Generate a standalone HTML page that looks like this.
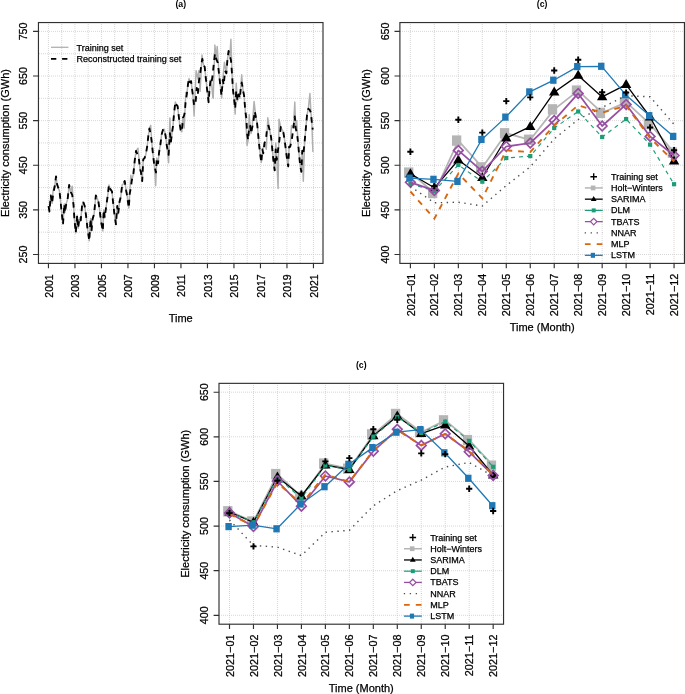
<!DOCTYPE html>
<html lang="en">
<head>
<meta charset="utf-8">
<title>Electricity consumption forecasts</title>
<style>
html,body{margin:0;padding:0;background:#fff;}
body{width:685px;height:694px;overflow:hidden;font-family:"Liberation Sans",Arial,Helvetica,sans-serif;}
svg{display:block;}
</style>
</head>
<body>
<svg width="685" height="694" viewBox="0 0 685 694">
<path d="M48.45 263V22.55M61.7 263V22.55M74.95 263V22.55M88.2 263V22.55M101.45 263V22.55M114.7 263V22.55M127.95 263V22.55M141.2 263V22.55M154.45 263V22.55M167.7 263V22.55M180.95 263V22.55M194.2 263V22.55M207.45 263V22.55M220.7 263V22.55M233.95 263V22.55M247.2 263V22.55M260.45 263V22.55M273.7 263V22.55M286.95 263V22.55M300.2 263V22.55M313.45 263V22.55" fill="none" stroke="#c4c4c4" stroke-width="0.8" stroke-dasharray="0.85 1.15"/>
<path d="M39 254.5H323M39 232.19H323M39 209.88H323M39 187.57H323M39 165.26H323M39 142.95H323M39 120.64H323M39 98.33H323M39 76.02H323M39 53.71H323M39 31.4H323" fill="none" stroke="#c4c4c4" stroke-width="0.8" stroke-dasharray="0.85 1.15"/>
<polyline points="48.54,205.99 49.46,211.5 50.77,195.47 52.09,203.36 53.1,190.2 54.72,186.28 56.03,176.42 57.08,184.31 58.39,188.25 59.45,190.88 60.36,199.42 61.68,212.55 62.99,224.38 64.31,204.01 64.96,212.55 66.28,203.36 67.59,199.42 69.17,184.96 70.48,191.53 72.2,186.3 73.5,204.67 74.42,219.12 75.74,232.92 77.18,215.18 78.1,228.32 79.42,217.81 80.73,220.44 82.04,205.99 83.09,201.39 84.67,205.99 85.99,215.18 87.3,227.01 89.27,240.8 90.58,218.47 91.5,230.95 92.55,219.12 94.13,213.87 95.84,195.47 97.15,198.1 98.47,202.04 99.78,211.24 101.09,221.75 102.8,230.95 103.72,209.93 104.64,217.81 106.35,205.33 107.66,196.13 108.98,184.96 110.29,188.91 112,191.53 112.92,200.73 114.23,212.55 115.94,224.38 117.26,205.99 118.18,213.87 119.49,202.04 120.8,196.79 122.12,184.96 123.43,183.65 124.74,181.02 126.06,190.22 127.37,196.79 127.48,198.83 128.8,208.03 129.72,193.58 130.8,175.2 131.82,180.44 133.39,173.87 134.71,160.73 136.02,150.88 138,148.2 139.96,168.61 141.01,172.55 142.2,181.09 143.25,159.42 144.56,158.1 145.88,154.16 147.19,146.28 148.5,134.45 149.42,128.54 150.7,125.3 151.79,142.34 153.1,155.47 154.42,165.99 155.7,185.7 156.78,158.1 158.09,163.36 159.01,152.85 160.33,144.96 161.64,134.45 162.96,129.85 164.27,129.2 165.58,135.77 166.9,146.28 168.6,162.7 169.9,117.9 170.84,142.34 172.15,131.82 172.99,126.09 174.01,113.83 175.34,102.08 176.36,104.64 177.59,106.17 178.61,114.85 179.64,124.05 180.66,130.18 181.88,131.72 182.91,117.92 184.2,128.1 185.8,92.4 186.79,94.42 188.01,84.2 189.04,78.58 190.06,82.15 191.08,81.13 192.1,89.31 192.92,95.44 194.1,115.9 196.1,70.7 198,79.1 198.8,70.7 200.1,91.4 202,55 203.62,65.47 204.67,66.79 205.72,77.3 207.04,89.12 208.61,102.26 209.66,87.81 210.58,79.93 211.5,82.55 212.8,97.5 213.2,98.3 214.9,45.1 216.23,58.91 217.2,46.4 219.12,74.67 220.44,86.5 221.7,98 222.8,79.93 224.4,62.2 226.35,73.36 227.4,60.22 228.58,51.02 229.9,56.28 230.9,39.2 232,73.36 232.92,89.12 233.84,97.01 235.2,114.1 236.2,83.2 237.52,100.95 238.57,94.38 239.88,98.32 241.7,74.7 243.04,90.44 244.09,95.69 245.14,108.83 247.1,145.4 248.14,140.18 249.2,114.6 250.11,125.73 251.03,133.61 252.08,128.36 254.1,101.4 255.76,116.53 257.07,123.1 257.99,132.3 258.91,142.81 259.96,152.01 261.28,162.52 262.6,151 264.56,142.81 266.3,149.3 267.8,117.8 269.82,130.99 271.13,137.55 272.18,148.07 273.36,159.89 274.68,170.4 275.8,143 276.78,159.89 278.1,188.5 279,119.2 280.72,127.04 282.04,129.67 283.35,132.3 284.66,140.18 285.98,150.69 287.29,161.2 288.21,166.46 289.13,146.75 290.18,146.75 291.5,125.6 293.47,127.04 294.8,102.1 295.7,128.36 296.7,120.5 298.07,142.81 299.12,154.64 300.3,166.46 301.35,171.72 302.27,150.69 303.3,181.2 304.64,141.5 305.95,127.04 307,115.22 308.31,108.65 309.9,93.5 310.94,112.59 311.86,123.1 312.9,152" fill="none" stroke="#b0b0b0" stroke-width="1.45" stroke-linejoin="round"/>
<polyline points="48.54,205.99 49.46,211.5 50.77,195.47 52.09,203.36 53.14,194.16 54.72,186.28 56.03,176.42 57.08,184.31 58.39,188.25 59.45,190.88 60.36,199.42 61.68,212.55 62.99,224.38 64.31,204.01 64.96,212.55 66.28,203.36 67.59,199.42 69.17,184.96 70.48,191.53 72.19,194.82 73.5,204.67 74.42,219.12 75.74,232.92 77.18,215.18 78.1,228.32 79.42,217.81 80.73,220.44 82.04,205.99 83.09,201.39 84.67,205.99 85.99,215.18 87.3,227.01 89.27,240.8 90.58,218.47 91.5,230.95 92.55,219.12 94.13,213.87 95.84,195.47 97.15,198.1 98.47,202.04 99.78,211.24 101.09,221.75 102.8,230.95 103.72,209.93 104.64,217.81 106.35,205.33 107.66,196.13 108.98,184.96 110.29,188.91 112,191.53 112.92,200.73 114.23,212.55 115.94,224.38 117.26,205.99 118.18,213.87 119.49,202.04 120.8,196.79 122.12,184.96 123.43,183.65 124.74,181.02 126.06,190.22 127.37,196.79 127.48,198.83 128.8,208.03 129.72,193.58 130.77,188.32 131.82,180.44 133.39,173.87 134.71,160.73 136.02,150.88 137.34,154.16 138.65,156.79 139.96,168.61 141.01,172.55 142.2,181.09 143.25,159.42 144.56,158.1 145.88,154.16 147.19,146.28 148.5,134.45 149.42,128.54 150.74,134.45 151.79,142.34 153.1,155.47 154.42,165.99 155.99,172.55 156.78,158.1 158.09,163.36 159.01,152.85 160.33,144.96 161.64,134.45 162.96,129.85 164.27,129.2 165.58,135.77 166.9,146.28 168.61,154.82 169.92,133.14 170.84,142.34 172.15,131.82 172.99,126.09 174.01,113.83 175.34,102.08 176.36,104.64 177.59,106.17 178.61,114.85 179.64,124.05 180.66,130.18 181.88,131.72 182.91,117.92 183.93,115.88 184.74,112.81 185.56,102.59 186.79,94.42 188.01,84.2 189.04,78.58 190.06,82.15 191.08,81.13 192.1,89.31 192.92,95.44 194.15,105.66 195.74,100.95 196.79,87.81 197.84,94.38 198.89,81.24 200.07,74.67 201.39,64.16 202.31,58.91 203.62,65.47 204.67,66.79 205.72,77.3 207.04,89.12 208.61,102.26 209.66,87.81 210.58,79.93 211.5,82.55 212.55,75.99 213.61,65.47 214.92,53.65 216.23,58.91 217.81,62.85 219.12,74.67 220.44,86.5 221.49,95.69 222.8,79.93 223.72,85.18 225.04,70.73 226.35,73.36 227.4,60.22 228.58,51.02 229.9,56.28 230.95,60.22 232,73.36 232.92,89.12 233.84,97.01 235.15,108.83 236.2,90.44 237.52,100.95 238.57,94.38 239.88,98.32 240.8,87.81 241.72,82.55 243.04,90.44 244.09,95.69 245.14,108.83 246.45,119.34 247.09,133.61 248.14,140.18 249.19,127.04 250.11,125.73 251.03,133.61 252.08,128.36 253.39,121.79 254.71,111.28 255.76,116.53 257.07,123.1 257.99,132.3 258.91,142.81 259.96,152.01 261.28,162.52 262.33,149.38 263.25,153.32 264.56,142.81 265.88,140.18 267.19,127.04 268.5,125.73 269.82,130.99 271.13,137.55 272.18,148.07 273.36,159.89 274.68,170.4 275.73,149.38 276.78,159.89 278.09,149.38 279.41,140.18 280.72,127.04 282.04,129.67 283.35,132.3 284.66,140.18 285.98,150.69 287.29,161.2 288.21,166.46 289.13,146.75 290.18,146.75 291.76,140.18 293.47,127.04 294.78,116.53 295.7,128.36 297.01,133.61 298.07,142.81 299.12,154.64 300.3,166.46 301.35,171.72 302.27,150.69 303.32,154.64 304.64,141.5 305.95,127.04 307,115.22 308.31,108.65 309.63,109.96 310.94,112.59 311.86,123.1 312.78,129.67" fill="none" stroke="#000" stroke-width="1.85" stroke-dasharray="5.6 5.0" stroke-linejoin="round"/>
<rect x="38.45" y="22.55" width="284.55" height="240.85" fill="none" stroke="#303030" stroke-width="1.15"/>
<path d="M48.45 263.4v4.9M74.95 263.4v4.9M101.45 263.4v4.9M127.95 263.4v4.9M154.45 263.4v4.9M180.95 263.4v4.9M207.45 263.4v4.9M233.95 263.4v4.9M260.45 263.4v4.9M286.95 263.4v4.9M313.45 263.4v4.9M38.45 254.5h-5.4M38.45 209.88h-5.4M38.45 165.26h-5.4M38.45 120.64h-5.4M38.45 76.02h-5.4M38.45 31.4h-5.4" fill="none" stroke="#303030" stroke-width="1.15"/>
<g font-family='"Liberation Sans", Arial, Helvetica, sans-serif' font-size="10.7" fill="#000" stroke="#000" stroke-width="0.25">
<text transform="translate(52.85 274.3) rotate(-90)" text-anchor="end" font-size="10.5">2001</text>
<text transform="translate(79.35 274.3) rotate(-90)" text-anchor="end" font-size="10.5">2003</text>
<text transform="translate(105.85 274.3) rotate(-90)" text-anchor="end" font-size="10.5">2005</text>
<text transform="translate(132.35 274.3) rotate(-90)" text-anchor="end" font-size="10.5">2007</text>
<text transform="translate(158.85 274.3) rotate(-90)" text-anchor="end" font-size="10.5">2009</text>
<text transform="translate(185.35 274.3) rotate(-90)" text-anchor="end" font-size="10.5">2011</text>
<text transform="translate(211.85 274.3) rotate(-90)" text-anchor="end" font-size="10.5">2013</text>
<text transform="translate(238.35 274.3) rotate(-90)" text-anchor="end" font-size="10.5">2015</text>
<text transform="translate(264.85 274.3) rotate(-90)" text-anchor="end" font-size="10.5">2017</text>
<text transform="translate(291.35 274.3) rotate(-90)" text-anchor="end" font-size="10.5">2019</text>
<text transform="translate(317.85 274.3) rotate(-90)" text-anchor="end" font-size="10.5">2021</text>
<text transform="translate(27.35 254.5) rotate(-90)" text-anchor="middle">250</text>
<text transform="translate(27.35 209.88) rotate(-90)" text-anchor="middle">350</text>
<text transform="translate(27.35 165.26) rotate(-90)" text-anchor="middle">450</text>
<text transform="translate(27.35 120.64) rotate(-90)" text-anchor="middle">550</text>
<text transform="translate(27.35 76.02) rotate(-90)" text-anchor="middle">650</text>
<text transform="translate(27.35 31.4) rotate(-90)" text-anchor="middle">750</text>
</g>
<g font-family='"Liberation Sans", Arial, Helvetica, sans-serif' font-size="11.0" fill="#000" stroke="#000" stroke-width="0.25">
<text transform="translate(8.55 142.97) rotate(-90)" text-anchor="middle">Electricity consumption (GWh)</text>
<text x="180.72" y="321.7" text-anchor="middle">Time</text>
</g>
<text x="180.72" y="6.75" text-anchor="middle" font-family='"Liberation Sans", Arial, Helvetica, sans-serif' font-size="8.7" font-weight="bold" fill="#000">(a)</text>
<path d="M51 47.3H68.4" stroke="#b0b0b0" stroke-width="1.3" fill="none"/>
<path d="M51 58.9H68.4" stroke="#000" stroke-width="1.9" stroke-dasharray="5.3 5.8" fill="none"/>
<g font-family='"Liberation Sans", Arial, Helvetica, sans-serif' font-size="9.0" fill="#000" stroke="#000" stroke-width="0.25"><text x="76.6" y="50.6">Training set</text><text x="76.6" y="62.2">Reconstructed training set</text></g>
<path d="M410.4 263V22.55M434.37 263V22.55M458.34 263V22.55M482.31 263V22.55M506.28 263V22.55M530.25 263V22.55M554.22 263V22.55M578.19 263V22.55M602.16 263V22.55M626.13 263V22.55M650.1 263V22.55M674.07 263V22.55" fill="none" stroke="#c4c4c4" stroke-width="0.8" stroke-dasharray="0.85 1.15"/>
<path d="M400 254.5H684.45M400 209.88H684.45M400 165.26H684.45M400 120.64H684.45M400 76.02H684.45M400 31.4H684.45" fill="none" stroke="#c4c4c4" stroke-width="0.8" stroke-dasharray="0.85 1.15"/>
<polyline points="410.4,172.6 434.37,193 458.34,140.6 482.31,167.4 506.28,133.3 530.25,139.8 554.22,109.4 578.19,90.6 602.16,112.9 626.13,102.2 650.1,124.1 674.07,152.6" fill="none" stroke="#b5b5b5" stroke-width="1.8" stroke-linejoin="round"/>
<g fill="#b5b5b5"><rect x="404.05" y="167.4" width="9.3" height="10.4"/><rect x="428.02" y="187.8" width="9.3" height="10.4"/><rect x="451.99" y="135.4" width="9.3" height="10.4"/><rect x="475.96" y="162.2" width="9.3" height="10.4"/><rect x="499.93" y="128.1" width="9.3" height="10.4"/><rect x="523.9" y="134.6" width="9.3" height="10.4"/><rect x="547.87" y="104.2" width="9.3" height="10.4"/><rect x="571.84" y="85.4" width="9.3" height="10.4"/><rect x="595.81" y="107.7" width="9.3" height="10.4"/><rect x="619.78" y="97" width="9.3" height="10.4"/><rect x="643.75" y="118.9" width="9.3" height="10.4"/><rect x="667.72" y="147.4" width="9.3" height="10.4"/></g>
<polyline points="410.4,173.8 434.37,187.8 458.34,160 482.31,177.5 506.28,138 530.25,126.6 554.22,92.2 578.19,75.4 602.16,96.9 626.13,84.7 650.1,117 674.07,161" fill="none" stroke="#000" stroke-width="1.3" stroke-linejoin="round"/>
<g fill="#000"><path d="M410.4 168.2l5.2 9h-10.4z"/><path d="M434.37 182.2l5.2 9h-10.4z"/><path d="M458.34 154.4l5.2 9h-10.4z"/><path d="M482.31 171.9l5.2 9h-10.4z"/><path d="M506.28 132.4l5.2 9h-10.4z"/><path d="M530.25 121l5.2 9h-10.4z"/><path d="M554.22 86.6l5.2 9h-10.4z"/><path d="M578.19 69.8l5.2 9h-10.4z"/><path d="M602.16 91.3l5.2 9h-10.4z"/><path d="M626.13 79.1l5.2 9h-10.4z"/><path d="M650.1 111.4l5.2 9h-10.4z"/><path d="M674.07 155.4l5.2 9h-10.4z"/></g>
<polyline points="410.4,183.8 434.37,191 458.34,165 482.31,181.7 506.28,158 530.25,156.1 554.22,128 578.19,111.5 602.16,137 626.13,119.1 650.1,144.6 674.07,184.2" fill="none" stroke="#1b9e77" stroke-width="1.15" stroke-dasharray="4 4"/>
<g fill="#1b9e77"><rect x="408.3" y="181.7" width="4.2" height="4.2"/><rect x="432.27" y="188.9" width="4.2" height="4.2"/><rect x="456.24" y="162.9" width="4.2" height="4.2"/><rect x="480.21" y="179.6" width="4.2" height="4.2"/><rect x="504.18" y="155.9" width="4.2" height="4.2"/><rect x="528.15" y="154" width="4.2" height="4.2"/><rect x="552.12" y="125.9" width="4.2" height="4.2"/><rect x="576.09" y="109.4" width="4.2" height="4.2"/><rect x="600.06" y="134.9" width="4.2" height="4.2"/><rect x="624.03" y="117" width="4.2" height="4.2"/><rect x="648" y="142.5" width="4.2" height="4.2"/><rect x="671.97" y="182.1" width="4.2" height="4.2"/></g>
<polyline points="410.4,182.3 434.37,190.4 458.34,150.4 482.31,171.3 506.28,146.5 530.25,143 554.22,120.4 578.19,93.4 602.16,126 626.13,104.4 650.1,136.4 674.07,155.5" fill="none" stroke="#984ea3" stroke-width="1.75" stroke-linejoin="round"/>
<g fill="none" stroke="#984ea3" stroke-width="1.7"><path d="M410.4 177.5l4.8 4.8l-4.8 4.8l-4.8 -4.8z"/><path d="M434.37 185.6l4.8 4.8l-4.8 4.8l-4.8 -4.8z"/><path d="M458.34 145.6l4.8 4.8l-4.8 4.8l-4.8 -4.8z"/><path d="M482.31 166.5l4.8 4.8l-4.8 4.8l-4.8 -4.8z"/><path d="M506.28 141.7l4.8 4.8l-4.8 4.8l-4.8 -4.8z"/><path d="M530.25 138.2l4.8 4.8l-4.8 4.8l-4.8 -4.8z"/><path d="M554.22 115.6l4.8 4.8l-4.8 4.8l-4.8 -4.8z"/><path d="M578.19 88.6l4.8 4.8l-4.8 4.8l-4.8 -4.8z"/><path d="M602.16 121.2l4.8 4.8l-4.8 4.8l-4.8 -4.8z"/><path d="M626.13 99.6l4.8 4.8l-4.8 4.8l-4.8 -4.8z"/><path d="M650.1 131.6l4.8 4.8l-4.8 4.8l-4.8 -4.8z"/><path d="M674.07 150.7l4.8 4.8l-4.8 4.8l-4.8 -4.8z"/></g>
<polyline points="410.4,186.5 434.37,202.8 458.34,202.2 482.31,206 506.28,185.5 530.25,166.8 554.22,138.9 578.19,119.5 602.16,107.4 626.13,95.7 650.1,96.8 674.07,124.4" fill="none" stroke="#4d4d4d" stroke-width="1.4" stroke-dasharray="1.4 4.5"/>
<polyline points="410.4,191.5 434.37,218.6 458.34,173.5 482.31,198.3 506.28,150.4 530.25,152 554.22,125.5 578.19,105.3 602.16,112.7 626.13,105.7 650.1,138 674.07,161.5" fill="none" stroke="#d9670f" stroke-width="1.9" stroke-dasharray="5.8 5.9"/>
<polyline points="409.9,178.1 433.87,179.3 457.84,181.4 481.81,139.5 505.78,117.1 529.75,91.9 553.72,80.2 577.69,66.6 601.66,66.3 625.63,94.7 649.6,115.7 673.57,136.4" fill="none" stroke="#1f78b4" stroke-width="1.3" stroke-linejoin="round"/>
<g fill="#1f78b4"><rect x="406.3" y="174.5" width="6.4" height="7.2"/><rect x="430.27" y="175.7" width="6.4" height="7.2"/><rect x="454.24" y="177.8" width="6.4" height="7.2"/><rect x="478.21" y="135.9" width="6.4" height="7.2"/><rect x="502.18" y="113.5" width="6.4" height="7.2"/><rect x="526.15" y="88.3" width="6.4" height="7.2"/><rect x="550.12" y="76.6" width="6.4" height="7.2"/><rect x="574.09" y="63" width="6.4" height="7.2"/><rect x="598.06" y="62.7" width="6.4" height="7.2"/><rect x="622.03" y="91.1" width="6.4" height="7.2"/><rect x="646" y="112.1" width="6.4" height="7.2"/><rect x="669.97" y="132.8" width="6.4" height="7.2"/></g>
<path d="M407.3 151.8h6.2M410.4 148.6v6.4M431.27 186.1h6.2M434.37 182.9v6.4M455.24 119.8h6.2M458.34 116.6v6.4M479.21 132.6h6.2M482.31 129.4v6.4M503.18 101.1h6.2M506.28 97.9v6.4M527.15 97.4h6.2M530.25 94.2v6.4M551.12 70.5h6.2M554.22 67.3v6.4M575.09 59.8h6.2M578.19 56.6v6.4M599.06 92.2h6.2M602.16 89v6.4M623.03 92.6h6.2M626.13 89.4v6.4M647 127.5h6.2M650.1 124.3v6.4M670.97 150.2h6.2M674.07 147v6.4" fill="none" stroke="#000" stroke-width="1.9"/>
<rect x="399.9" y="22.55" width="284.55" height="240.85" fill="none" stroke="#303030" stroke-width="1.15"/>
<path d="M410.4 263.4v4.9M434.37 263.4v4.9M458.34 263.4v4.9M482.31 263.4v4.9M506.28 263.4v4.9M530.25 263.4v4.9M554.22 263.4v4.9M578.19 263.4v4.9M602.16 263.4v4.9M626.13 263.4v4.9M650.1 263.4v4.9M674.07 263.4v4.9M399.9 254.5h-5.4M399.9 209.88h-5.4M399.9 165.26h-5.4M399.9 120.64h-5.4M399.9 76.02h-5.4M399.9 31.4h-5.4" fill="none" stroke="#303030" stroke-width="1.15"/>
<g font-family='"Liberation Sans", Arial, Helvetica, sans-serif' font-size="10.7" fill="#000" stroke="#000" stroke-width="0.25">
<text transform="translate(414.5 273.8) rotate(-90)" text-anchor="end" font-size="10.8">2021−01</text>
<text transform="translate(438.47 273.8) rotate(-90)" text-anchor="end" font-size="10.8">2021−02</text>
<text transform="translate(462.44 273.8) rotate(-90)" text-anchor="end" font-size="10.8">2021−03</text>
<text transform="translate(486.41 273.8) rotate(-90)" text-anchor="end" font-size="10.8">2021−04</text>
<text transform="translate(510.38 273.8) rotate(-90)" text-anchor="end" font-size="10.8">2021−05</text>
<text transform="translate(534.35 273.8) rotate(-90)" text-anchor="end" font-size="10.8">2021−06</text>
<text transform="translate(558.32 273.8) rotate(-90)" text-anchor="end" font-size="10.8">2021−07</text>
<text transform="translate(582.29 273.8) rotate(-90)" text-anchor="end" font-size="10.8">2021−08</text>
<text transform="translate(606.26 273.8) rotate(-90)" text-anchor="end" font-size="10.8">2021−09</text>
<text transform="translate(630.23 273.8) rotate(-90)" text-anchor="end" font-size="10.8">2021−10</text>
<text transform="translate(654.2 273.8) rotate(-90)" text-anchor="end" font-size="10.8">2021−11</text>
<text transform="translate(678.17 273.8) rotate(-90)" text-anchor="end" font-size="10.8">2021−12</text>
<text transform="translate(388.8 254.5) rotate(-90)" text-anchor="middle">400</text>
<text transform="translate(388.8 209.88) rotate(-90)" text-anchor="middle">450</text>
<text transform="translate(388.8 165.26) rotate(-90)" text-anchor="middle">500</text>
<text transform="translate(388.8 120.64) rotate(-90)" text-anchor="middle">550</text>
<text transform="translate(388.8 76.02) rotate(-90)" text-anchor="middle">600</text>
<text transform="translate(388.8 31.4) rotate(-90)" text-anchor="middle">650</text>
</g>
<g font-family='"Liberation Sans", Arial, Helvetica, sans-serif' font-size="11.0" fill="#000" stroke="#000" stroke-width="0.25">
<text transform="translate(370 142.97) rotate(-90)" text-anchor="middle">Electricity consumption (GWh)</text>
<text x="542.17" y="331" text-anchor="middle">Time (Month)</text>
</g>
<text x="542.17" y="6.75" text-anchor="middle" font-family='"Liberation Sans", Arial, Helvetica, sans-serif' font-size="8.7" font-weight="bold" fill="#000">(c)</text>
<path d="M590.4 176.7h6.6M593.7 173.3v6.8" fill="none" stroke="#000" stroke-width="1.35"/>
<path d="M584.9 187.93H602.7" stroke="#b5b5b5" stroke-width="1.5" fill="none"/><rect x="590.8" y="185.53" width="4.6" height="4.8" fill="#b5b5b5"/>
<path d="M584.9 199.16H602.7" stroke="#000" stroke-width="1.3" fill="none"/><path d="M593.7 195.96l2.9 5h-5.8z" fill="#000"/>
<path d="M584.9 210.39H602.7" stroke="#1b9e77" stroke-width="1.2" fill="none"/><rect x="591.7" y="208.39" width="4" height="4" fill="#1b9e77"/>
<path d="M584.9 221.62H602.7" stroke="#984ea3" stroke-width="1.3" fill="none"/><path d="M593.7 218.42l3.2 3.2l-3.2 3.2l-3.2 -3.2z" stroke="#984ea3" stroke-width="1.25" fill="#fff"/>
<path d="M584.7 232.85H602.7" stroke="#4d4d4d" stroke-width="1.3" stroke-dasharray="1.3 4.65" fill="none"/>
<path d="M584.9 244.08H602.7" stroke="#d9670f" stroke-width="1.9" stroke-dasharray="5.7 6.1" fill="none"/>
<path d="M584.9 255.31H602.7" stroke="#1f78b4" stroke-width="1.3" fill="none"/><rect x="590.8" y="252.81" width="4.2" height="5" fill="#1f78b4"/>
<g font-family='"Liberation Sans", Arial, Helvetica, sans-serif' font-size="9.0" fill="#000" stroke="#000" stroke-width="0.25">
<text x="611.1" y="179.7">Training set</text>
<text x="611.1" y="190.93">Holt−Winters</text>
<text x="611.1" y="202.16">SARIMA</text>
<text x="611.1" y="213.39">DLM</text>
<text x="611.1" y="224.62">TBATS</text>
<text x="611.1" y="235.85">NNAR</text>
<text x="611.1" y="247.08">MLP</text>
<text x="611.1" y="258.31">LSTM</text>
</g>
<path d="M229.5 624V383.35M253.47 624V383.35M277.44 624V383.35M301.41 624V383.35M325.38 624V383.35M349.35 624V383.35M373.32 624V383.35M397.29 624V383.35M421.26 624V383.35M445.23 624V383.35M469.2 624V383.35M493.17 624V383.35" fill="none" stroke="#c4c4c4" stroke-width="0.8" stroke-dasharray="0.85 1.15"/>
<path d="M219 615.3H503.55M219 570.68H503.55M219 526.06H503.55M219 481.44H503.55M219 436.82H503.55M219 392.2H503.55" fill="none" stroke="#c4c4c4" stroke-width="0.8" stroke-dasharray="0.85 1.15"/>
<polyline points="229.5,511.3 253.47,521.5 277.44,474.1 301.41,496.7 325.38,463.6 349.35,468.7 373.32,434.4 397.29,414 421.26,432.2 445.23,420.4 469.2,440.1 493.17,465.7" fill="none" stroke="#b5b5b5" stroke-width="1.8" stroke-linejoin="round"/>
<g fill="#b5b5b5"><rect x="223.15" y="506.1" width="9.3" height="10.4"/><rect x="247.12" y="516.3" width="9.3" height="10.4"/><rect x="271.09" y="468.9" width="9.3" height="10.4"/><rect x="295.06" y="491.5" width="9.3" height="10.4"/><rect x="319.03" y="458.4" width="9.3" height="10.4"/><rect x="343" y="463.5" width="9.3" height="10.4"/><rect x="366.97" y="429.2" width="9.3" height="10.4"/><rect x="390.94" y="408.8" width="9.3" height="10.4"/><rect x="414.91" y="427" width="9.3" height="10.4"/><rect x="438.88" y="415.2" width="9.3" height="10.4"/><rect x="462.85" y="434.9" width="9.3" height="10.4"/><rect x="486.82" y="460.5" width="9.3" height="10.4"/></g>
<polyline points="229.5,512 253.47,522.3 277.44,477 301.41,496 325.38,465.1 349.35,469.5 373.32,435.8 397.29,416.2 421.26,433.7 445.23,425.2 469.2,446 493.17,475.2" fill="none" stroke="#000" stroke-width="1.3" stroke-linejoin="round"/>
<g fill="#000"><path d="M229.5 506.4l5.2 9h-10.4z"/><path d="M253.47 516.7l5.2 9h-10.4z"/><path d="M277.44 471.4l5.2 9h-10.4z"/><path d="M301.41 490.4l5.2 9h-10.4z"/><path d="M325.38 459.5l5.2 9h-10.4z"/><path d="M349.35 463.9l5.2 9h-10.4z"/><path d="M373.32 430.2l5.2 9h-10.4z"/><path d="M397.29 410.6l5.2 9h-10.4z"/><path d="M421.26 428.1l5.2 9h-10.4z"/><path d="M445.23 419.6l5.2 9h-10.4z"/><path d="M469.2 440.4l5.2 9h-10.4z"/><path d="M493.17 469.6l5.2 9h-10.4z"/></g>
<polyline points="229.5,512.5 253.47,522.3 277.44,477.7 301.41,498.2 325.38,465.5 349.35,469.8 373.32,436.6 397.29,416.9 421.26,433 445.23,421.6 469.2,440.9 493.17,466.8" fill="none" stroke="#1b9e77" stroke-width="1.15" stroke-dasharray="4 4"/>
<g fill="#1b9e77"><rect x="227.4" y="510.4" width="4.2" height="4.2"/><rect x="251.37" y="520.2" width="4.2" height="4.2"/><rect x="275.34" y="475.6" width="4.2" height="4.2"/><rect x="299.31" y="496.1" width="4.2" height="4.2"/><rect x="323.28" y="463.4" width="4.2" height="4.2"/><rect x="347.25" y="467.7" width="4.2" height="4.2"/><rect x="371.22" y="434.5" width="4.2" height="4.2"/><rect x="395.19" y="414.8" width="4.2" height="4.2"/><rect x="419.16" y="430.9" width="4.2" height="4.2"/><rect x="443.13" y="419.5" width="4.2" height="4.2"/><rect x="467.1" y="438.8" width="4.2" height="4.2"/><rect x="491.07" y="464.7" width="4.2" height="4.2"/></g>
<polyline points="229.5,513.1 253.47,526.6 277.44,481 301.41,506.2 325.38,476 349.35,481.9 373.32,451.2 397.29,429.3 421.26,445.4 445.23,433.8 469.2,451.8 493.17,475.4" fill="none" stroke="#984ea3" stroke-width="1.75" stroke-linejoin="round"/>
<g fill="none" stroke="#984ea3" stroke-width="1.7"><path d="M229.5 508.3l4.8 4.8l-4.8 4.8l-4.8 -4.8z"/><path d="M253.47 521.8l4.8 4.8l-4.8 4.8l-4.8 -4.8z"/><path d="M277.44 476.2l4.8 4.8l-4.8 4.8l-4.8 -4.8z"/><path d="M301.41 501.4l4.8 4.8l-4.8 4.8l-4.8 -4.8z"/><path d="M325.38 471.2l4.8 4.8l-4.8 4.8l-4.8 -4.8z"/><path d="M349.35 477.1l4.8 4.8l-4.8 4.8l-4.8 -4.8z"/><path d="M373.32 446.4l4.8 4.8l-4.8 4.8l-4.8 -4.8z"/><path d="M397.29 424.5l4.8 4.8l-4.8 4.8l-4.8 -4.8z"/><path d="M421.26 440.6l4.8 4.8l-4.8 4.8l-4.8 -4.8z"/><path d="M445.23 429l4.8 4.8l-4.8 4.8l-4.8 -4.8z"/><path d="M469.2 447l4.8 4.8l-4.8 4.8l-4.8 -4.8z"/><path d="M493.17 470.6l4.8 4.8l-4.8 4.8l-4.8 -4.8z"/></g>
<polyline points="229.5,520 253.47,545.4 277.44,547.2 301.41,555.6 325.38,532.3 349.35,530.3 373.32,505.8 397.29,490.6 421.26,480.1 445.23,467 469.2,462.5 493.17,476" fill="none" stroke="#4d4d4d" stroke-width="1.4" stroke-dasharray="1.4 4.5"/>
<polyline points="229.5,514.2 253.47,525.9 277.44,482.8 301.41,504 325.38,474.6 349.35,481.9 373.32,450.5 397.29,430 421.26,445.4 445.23,434 469.2,451 493.17,475.2" fill="none" stroke="#d9670f" stroke-width="1.9" stroke-dasharray="5.8 5.9"/>
<polyline points="229,526.6 252.97,525.2 276.94,528.8 300.91,504 324.88,486.7 348.85,464.3 372.82,447.6 396.79,432.2 420.76,429.6 444.73,452.8 468.7,478.3 492.67,505.7" fill="none" stroke="#1f78b4" stroke-width="1.3" stroke-linejoin="round"/>
<g fill="#1f78b4"><rect x="225.4" y="523" width="6.4" height="7.2"/><rect x="249.37" y="521.6" width="6.4" height="7.2"/><rect x="273.34" y="525.2" width="6.4" height="7.2"/><rect x="297.31" y="500.4" width="6.4" height="7.2"/><rect x="321.28" y="483.1" width="6.4" height="7.2"/><rect x="345.25" y="460.7" width="6.4" height="7.2"/><rect x="369.22" y="444" width="6.4" height="7.2"/><rect x="393.19" y="428.6" width="6.4" height="7.2"/><rect x="417.16" y="426" width="6.4" height="7.2"/><rect x="441.13" y="449.2" width="6.4" height="7.2"/><rect x="465.1" y="474.7" width="6.4" height="7.2"/><rect x="489.07" y="502.1" width="6.4" height="7.2"/></g>
<path d="M226.4 513.1h6.2M229.5 509.9v6.4M250.37 546.4h6.2M253.47 543.2v6.4M274.34 480.7h6.2M277.44 477.5v6.4M298.31 493.8h6.2M301.41 490.6v6.4M322.28 461.4h6.2M325.38 458.2v6.4M346.25 458.1h6.2M349.35 454.9v6.4M370.22 429.3h6.2M373.32 426.1v6.4M394.19 419.8h6.2M397.29 416.6v6.4M418.16 453.4h6.2M421.26 450.2v6.4M442.13 454.1h6.2M445.23 450.9v6.4M466.1 488.7h6.2M469.2 485.5v6.4M490.07 511h6.2M493.17 507.8v6.4" fill="none" stroke="#000" stroke-width="1.9"/>
<rect x="219" y="383.35" width="284.55" height="240.85" fill="none" stroke="#303030" stroke-width="1.15"/>
<path d="M229.5 624.2v4.9M253.47 624.2v4.9M277.44 624.2v4.9M301.41 624.2v4.9M325.38 624.2v4.9M349.35 624.2v4.9M373.32 624.2v4.9M397.29 624.2v4.9M421.26 624.2v4.9M445.23 624.2v4.9M469.2 624.2v4.9M493.17 624.2v4.9M219 615.3h-5.4M219 570.68h-5.4M219 526.06h-5.4M219 481.44h-5.4M219 436.82h-5.4M219 392.2h-5.4" fill="none" stroke="#303030" stroke-width="1.15"/>
<g font-family='"Liberation Sans", Arial, Helvetica, sans-serif' font-size="10.7" fill="#000" stroke="#000" stroke-width="0.25">
<text transform="translate(233.6 634.6) rotate(-90)" text-anchor="end" font-size="10.8">2021−01</text>
<text transform="translate(257.57 634.6) rotate(-90)" text-anchor="end" font-size="10.8">2021−02</text>
<text transform="translate(281.54 634.6) rotate(-90)" text-anchor="end" font-size="10.8">2021−03</text>
<text transform="translate(305.51 634.6) rotate(-90)" text-anchor="end" font-size="10.8">2021−04</text>
<text transform="translate(329.48 634.6) rotate(-90)" text-anchor="end" font-size="10.8">2021−05</text>
<text transform="translate(353.45 634.6) rotate(-90)" text-anchor="end" font-size="10.8">2021−06</text>
<text transform="translate(377.42 634.6) rotate(-90)" text-anchor="end" font-size="10.8">2021−07</text>
<text transform="translate(401.39 634.6) rotate(-90)" text-anchor="end" font-size="10.8">2021−08</text>
<text transform="translate(425.36 634.6) rotate(-90)" text-anchor="end" font-size="10.8">2021−09</text>
<text transform="translate(449.33 634.6) rotate(-90)" text-anchor="end" font-size="10.8">2021−10</text>
<text transform="translate(473.3 634.6) rotate(-90)" text-anchor="end" font-size="10.8">2021−11</text>
<text transform="translate(497.27 634.6) rotate(-90)" text-anchor="end" font-size="10.8">2021−12</text>
<text transform="translate(207.9 615.3) rotate(-90)" text-anchor="middle">400</text>
<text transform="translate(207.9 570.68) rotate(-90)" text-anchor="middle">450</text>
<text transform="translate(207.9 526.06) rotate(-90)" text-anchor="middle">500</text>
<text transform="translate(207.9 481.44) rotate(-90)" text-anchor="middle">550</text>
<text transform="translate(207.9 436.82) rotate(-90)" text-anchor="middle">600</text>
<text transform="translate(207.9 392.2) rotate(-90)" text-anchor="middle">650</text>
</g>
<g font-family='"Liberation Sans", Arial, Helvetica, sans-serif' font-size="11.0" fill="#000" stroke="#000" stroke-width="0.25">
<text transform="translate(189.1 503.78) rotate(-90)" text-anchor="middle">Electricity consumption (GWh)</text>
<text x="361.28" y="691.8" text-anchor="middle">Time (Month)</text>
</g>
<text x="361.28" y="367.55" text-anchor="middle" font-family='"Liberation Sans", Arial, Helvetica, sans-serif' font-size="8.7" font-weight="bold" fill="#000">(c)</text>
<path d="M409.5 537.5h6.6M412.8 534.1v6.8" fill="none" stroke="#000" stroke-width="1.35"/>
<path d="M404 548.73H421.8" stroke="#b5b5b5" stroke-width="1.5" fill="none"/><rect x="409.9" y="546.33" width="4.6" height="4.8" fill="#b5b5b5"/>
<path d="M404 559.96H421.8" stroke="#000" stroke-width="1.3" fill="none"/><path d="M412.8 556.76l2.9 5h-5.8z" fill="#000"/>
<path d="M404 571.19H421.8" stroke="#1b9e77" stroke-width="1.2" fill="none"/><rect x="410.8" y="569.19" width="4" height="4" fill="#1b9e77"/>
<path d="M404 582.42H421.8" stroke="#984ea3" stroke-width="1.3" fill="none"/><path d="M412.8 579.22l3.2 3.2l-3.2 3.2l-3.2 -3.2z" stroke="#984ea3" stroke-width="1.25" fill="#fff"/>
<path d="M403.8 593.65H421.8" stroke="#4d4d4d" stroke-width="1.3" stroke-dasharray="1.3 4.65" fill="none"/>
<path d="M404 604.88H421.8" stroke="#d9670f" stroke-width="1.9" stroke-dasharray="5.7 6.1" fill="none"/>
<path d="M404 616.11H421.8" stroke="#1f78b4" stroke-width="1.3" fill="none"/><rect x="409.9" y="613.61" width="4.2" height="5" fill="#1f78b4"/>
<g font-family='"Liberation Sans", Arial, Helvetica, sans-serif' font-size="9.0" fill="#000" stroke="#000" stroke-width="0.25">
<text x="430.2" y="540.5">Training set</text>
<text x="430.2" y="551.73">Holt−Winters</text>
<text x="430.2" y="562.96">SARIMA</text>
<text x="430.2" y="574.19">DLM</text>
<text x="430.2" y="585.42">TBATS</text>
<text x="430.2" y="596.65">NNAR</text>
<text x="430.2" y="607.88">MLP</text>
<text x="430.2" y="619.11">LSTM</text>
</g>
</svg>
</body>
</html>
